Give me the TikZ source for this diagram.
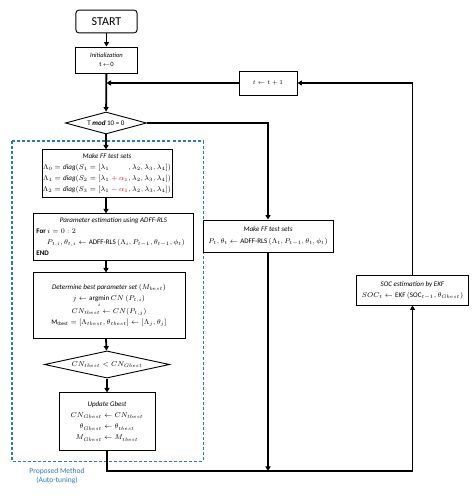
\documentclass[tikz,border=0pt]{standalone}
\usepackage{amsmath}
\usepackage{fontspec}
\setmainfont{Carlito}
\usetikzlibrary{positioning,arrows.meta,shapes.geometric}
\definecolor{methode}{RGB}{40,120,195}

\tikzset{
  bloc/.style={draw,line width=0.9pt,inner sep=1pt,font=\fontsize{7}{11}\selectfont,align=center},
  losange/.style={draw,diamond,line width=0.9pt,inner sep=0pt,font=\fontsize{7}{9}\selectfont},
  fleche/.style={line width=1.8pt,-{Triangle[length=4.5pt,width=5pt]}}
}

\begin{document}
\begin{tikzpicture}[x=0.035cm,y=-0.035cm]
    \useasboundingbox (0,0) rectangle (474,496);

    % Cadre methode proposee
    \draw[methode,line width=1pt,dash pattern=on 3pt off 2pt] (12,141) rectangle (203,461);
    \node[methode,font=\fontsize{7.5}{9.5}\selectfont,align=center] (label) at (57,476) {Proposed Method\\(Auto-tuning)};

    % Colonne principale
    \node[bloc,rounded corners=3pt,minimum width=2.14cm,minimum height=0.8cm,font=\fontsize{12}{14}\selectfont] (start) at (106.5,21.5) {START};
    \node[bloc,minimum width=2.14cm,minimum height=0.91cm,font=\fontsize{6.5}{9}\selectfont] (init) at (106.5,60) {\textit{Initialization}\\t $\leftarrow$0};
    \node[losange,aspect=3.7,minimum width=2.84cm,minimum height=0.77cm] (mod) at (106,123) {T \textbf{\textit{mod}} 10 = 0};
    \node[bloc,minimum width=4.55cm,minimum height=1.65cm] (ffA) at (107,173.5) {\textit{Make FF test sets}\\
      $\Lambda_0 = \mathit{diag}(S_1 = [\lambda_1 \phantom{{}+\alpha_1}, \lambda_2,\lambda_3,\lambda_4])$\\
      $\Lambda_1 = \mathit{diag}(S_2 = [\lambda_1 \mathbin{\textcolor{red}{+}} \textcolor{red}{\alpha_1}, \lambda_2,\lambda_3,\lambda_4])$\\
      $\Lambda_2 = \mathit{diag}(S_3 = [\lambda_1 \mathbin{\textcolor{red}{-}} \textcolor{red}{\alpha_1}, \lambda_2,\lambda_3,\lambda_4])$};
    \node[bloc,minimum width=5.57cm,minimum height=1.47cm] (param) at (113.5,237) {\begin{tabular}{@{}p{5.4cm}@{}}
      \multicolumn{1}{@{}c@{}}{\textit{Parameter estimation using ADFF-RLS}}\\
      \textbf{For} $i = 0:2$\\
      \hspace{1.5em}$P_{t,i},\theta_{t,i} \leftarrow \text{ADFF-RLS}\,(\Lambda_i, P_{t-1},\theta_{t-1},\phi_t)$\\
      \textbf{END}
    \end{tabular}};
    \node[bloc,minimum width=5.32cm,minimum height=2.28cm] (best) at (109,305.5) {\textit{Determine best parameter set} $(M_{best})$\\
      $j \leftarrow \operatorname*{argmin}\limits_i CN\,(P_{t,i})$\\
      $CN_{tbest} \leftarrow CN(P_{t,j})$\\
      $\mathrm{M}_{\mathrm{tbest}} = [\Lambda_{tbest},\theta_{tbest}] \leftarrow [\Lambda_j,\theta_j]$};
    \node[losange,aspect=4.6,minimum width=4.38cm,minimum height=0.95cm] (cmp) at (107,364.5) {$CN_{tbest} < CN_{Gbest}$};
    \node[bloc,minimum width=3.36cm,minimum height=2cm] (upd) at (107,421.5) {\textit{Update Gbest}\\
      $CN_{Gbest} \leftarrow CN_{tbest}$\\
      $\theta_{Gbest} \leftarrow \theta_{tbest}$\\
      $M_{Gbest} \leftarrow M_{tbest}$};

    % Branche de droite
    \node[bloc,minimum width=2.03cm,minimum height=0.84cm,font=\fontsize{6}{8}\selectfont] (tinc) at (268,83) {$t \leftarrow t + 1$};
    \node[bloc,minimum width=4.55cm,minimum height=1.12cm] (ffB) at (268,236) {\textit{Make FF test sets}\\
      $P_t,\theta_t \leftarrow \text{ADFF-RLS}\,(\Lambda_t,P_{t-1},\theta_t,\phi_t)$};
    \node[bloc,minimum width=3.89cm,minimum height=1.05cm] (soc) at (412.5,290) {\textit{SOC estimation by EKF}\\
      $SOC_t \leftarrow \text{EKF}\,(\text{SOC}_{t-1},\theta_{Gbest})$};

    % Fleches
    \draw[fleche] (start) -- (init);
    \draw[fleche] (init) -- (mod);
    \draw[fleche] (mod) -- (mod |- ffA.north);
    \draw[fleche] (mod |- ffA.south) -- (mod |- param.north);
    \draw[fleche] (mod |- param.south) -- (mod |- best.north);
    \draw[fleche] (mod |- best.south) -- (cmp);
    \draw[fleche] (cmp) -- (upd);
    \draw[fleche] (mod.east) -| (ffB.north);
    \draw[fleche] (soc.north) |- (tinc.east);
    \draw[fleche] (tinc.west) -- (tinc.west -| init.south);
    \coordinate (basG) at (upd.south |- 0,471);
    \draw[fleche] (upd.south) -- (basG) -- (soc.south |- basG) -- (soc.south);
    \draw[fleche] (ffB.south) -- (ffB.south |- basG);

\end{tikzpicture}
\end{document}
